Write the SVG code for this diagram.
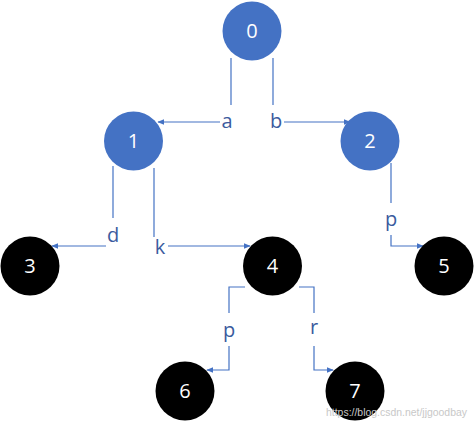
<svg xmlns="http://www.w3.org/2000/svg" width="474" height="422" viewBox="0 0 474 422">
<defs>
<marker id="arr" viewBox="0 0 10 10" refX="9" refY="5" markerWidth="7" markerHeight="7" orient="auto-start-reverse" markerUnits="userSpaceOnUse">
<path d="M0,1 L10,5 L0,9 z" fill="#4472C4"/>
</marker>
<style>
.blue{fill:#4472C4}
.black{fill:#000}
.num{font-family:"Open Sans","Noto Sans",sans-serif;font-size:20px;fill:#fff;text-anchor:middle}
.edge{fill:none;stroke:#4472C4;stroke-width:1.2}
.lbl{font-family:"Open Sans","Noto Sans",sans-serif;font-size:20px;fill:#3B5B9E;text-anchor:middle}
.wm{font-family:"Liberation Sans",sans-serif;font-size:11px;fill:#c8c8c8}
</style>
</defs>
<rect width="474" height="422" fill="#fff"/>
<g id="connectors">
<polyline class="edge" points="231,58 231,105"/>
<polyline class="edge" points="220,122 158,122" marker-end="url(#arr)"/>
<polyline class="edge" points="273,58 273,105"/>
<polyline class="edge" points="284,122 350,122" marker-end="url(#arr)"/>
<polyline class="edge" points="113,166 113,218"/>
<polyline class="edge" points="106,246 52,246" marker-end="url(#arr)"/>
<polyline class="edge" points="154,168 154,237"/>
<polyline class="edge" points="168,246 250,246" marker-end="url(#arr)"/>
<polyline class="edge" points="391,163 391,203"/>
<polyline class="edge" points="391,235 391,246 423,246" marker-end="url(#arr)"/>
<polyline class="edge" points="245,287 229,287 229,313"/>
<polyline class="edge" points="229,346 229,370 207,370" marker-end="url(#arr)"/>
<polyline class="edge" points="299,287 314,287 314,313"/>
<polyline class="edge" points="314,346 314,370 333,370" marker-end="url(#arr)"/>
<text class="lbl" x="227" y="128">a</text>
<text class="lbl" x="276" y="128">b</text>
<text class="lbl" x="113" y="242">d</text>
<text class="lbl" x="160" y="254">k</text>
<text class="lbl" x="391" y="226">p</text>
<text class="lbl" x="229" y="337">p</text>
<text class="lbl" x="314" y="334">r</text>
</g>
<g id="node0"><circle class="blue" cx="252" cy="31" r="29.5"/><text class="num" x="252" y="38">0</text></g>
<g id="node1"><circle class="blue" cx="133.5" cy="141" r="29.5"/><text class="num" x="133.5" y="148">1</text></g>
<g id="node2"><circle class="blue" cx="370" cy="141" r="29.5"/><text class="num" x="370" y="148">2</text></g>
<g id="node3"><circle class="black" cx="30" cy="266" r="29.5"/><text class="num" x="30" y="273">3</text></g>
<g id="node4"><circle class="black" cx="272.5" cy="266" r="29.5"/><text class="num" x="272.5" y="273">4</text></g>
<g id="node5"><circle class="black" cx="444" cy="266" r="29.5"/><text class="num" x="444" y="273">5</text></g>
<g id="node6"><circle class="black" cx="185" cy="391" r="29.5"/><text class="num" x="185" y="398">6</text></g>
<g id="node7"><circle class="black" cx="355" cy="391" r="29.5"/><text class="num" x="355" y="398">7</text></g>
<text class="wm" x="326" y="416" textLength="141" lengthAdjust="spacingAndGlyphs">https://blog.csdn.net/jjgoodbay</text>
</svg>
